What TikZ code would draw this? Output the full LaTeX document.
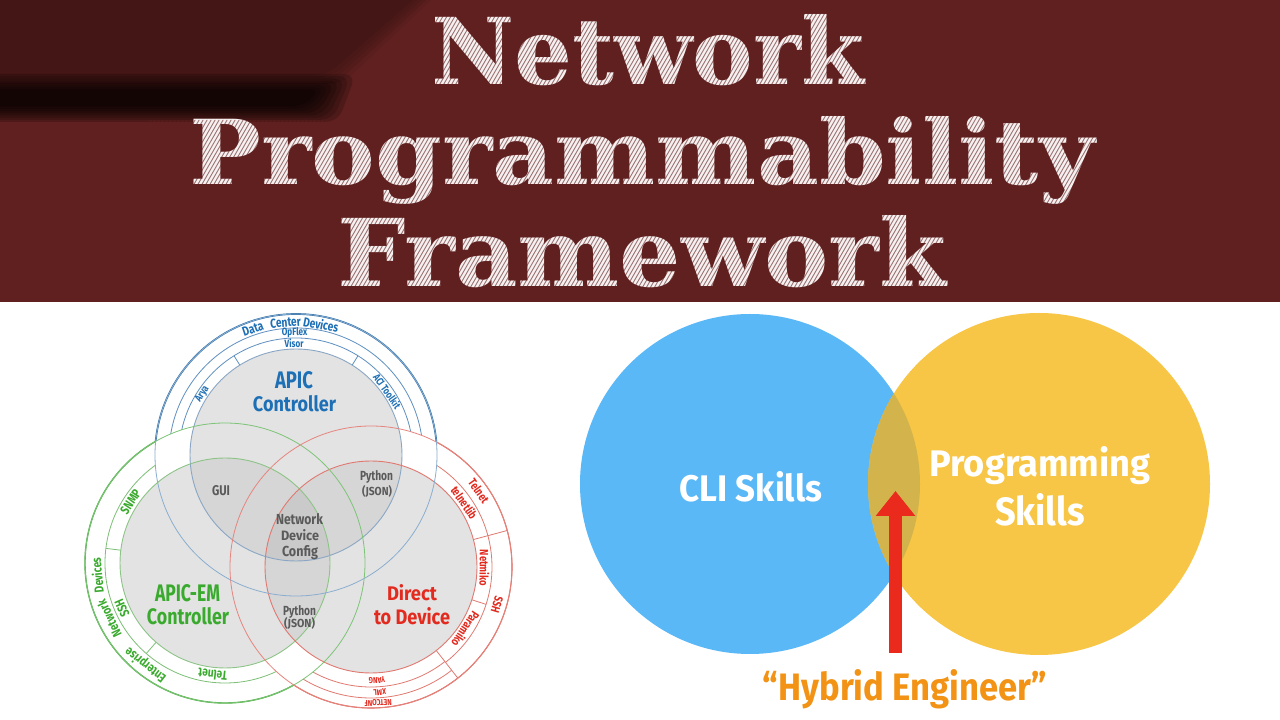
\documentclass[tikz,border=0pt]{standalone}
\usepackage{graphicx}
\usepackage{fontspec}
\setmainfont{Fira Sans}
\newfontfamily\condfont[FakeStretch=0.78]{Fira Sans}
\newfontfamily\slabfont{DejaVu Serif}
\usetikzlibrary{arrows.meta}
\definecolor{banner}{HTML}{5F201F}
\definecolor{titlewhite}{HTML}{F6F0F0}
\definecolor{skyblue}{HTML}{5BB8F7}
\definecolor{sunyellow}{HTML}{F8C646}
\definecolor{overlapc}{HTML}{D3B44C}
\definecolor{arrowred}{HTML}{EA2A1C}
\definecolor{hyborange}{HTML}{F29315}
\definecolor{bluetxt}{HTML}{1D6FB6}
\definecolor{blueout}{HTML}{2B6CA8}
\definecolor{bluering}{HTML}{5E8FC0}
\definecolor{blueinner}{HTML}{8AA6C4}
\definecolor{greentxt}{HTML}{3AAA2E}
\definecolor{greenout}{HTML}{50B048}
\definecolor{greenring}{HTML}{7CBF75}
\definecolor{greeninner}{HTML}{8CC486}
\definecolor{redtxt}{HTML}{E22A1F}
\definecolor{redout}{HTML}{E0665C}
\definecolor{redring}{HTML}{E07A70}
\definecolor{redinner}{HTML}{E07870}
\definecolor{grayA}{HTML}{E3E3E3}
\definecolor{grayB}{HTML}{D6D6D6}
\definecolor{grayC}{HTML}{CACACA}
\definecolor{graytxt}{HTML}{5A5A5A}
\newcommand\fitbox[3]{\resizebox{#1pt}{#2pt}{#3}}
\newcommand\outsideclip[2]{\clip (-50,-50) -- (-50,770) -- (1330,770) -- (1330,-50) -- cycle ([shift={(0:#2)}]#1) arc[start angle=0,end angle=360,radius=#2];}
\newcommand\ringlbl[6]{\node[#6,rotate={#3-90}] (#1) at ([shift={(#3:#4)}]#2) {#5};}
\tikzset{
  titletext/.style={inner sep=0,anchor=base,text=titlewhite,font=\slabfont\bfseries},
  mainlbl/.style={inner sep=0,anchor=base,font=\condfont\bfseries},
  rB13/.style={inner sep=0,text=bluetxt,font=\condfont\bfseries\fontsize{13}{13}\selectfont},
  rB10/.style={inner sep=0,text=bluetxt,font=\condfont\bfseries\fontsize{10.5}{10.5}\selectfont},
  rG12/.style={inner sep=0,text=greentxt,font=\condfont\bfseries\fontsize{13}{13}\selectfont},
  rR11/.style={inner sep=0,text=redtxt,font=\condfont\bfseries\fontsize{12}{12}\selectfont},
  rR8/.style={inner sep=0,text=redtxt,font=\condfont\bfseries\fontsize{8.5}{8.5}\selectfont},
  hybridarrow/.style={draw=arrowred,line width=13pt,-{Triangle[width=38pt,length=25pt]}},
}
\begin{document}
\begin{tikzpicture}[x=1pt,y=1pt]
\useasboundingbox (0,0) rectangle (1280,720);
\fill[white] (0,0) rectangle (1280,720);
% banner
\fill[banner] (0,418) rectangle (1280,720);
\foreach \k in {0,...,4}{
  \fill[black,opacity=0.06,rounded corners=14pt] (-20,{636+2*\k}) -- ({342-4*\k},{636+2*\k}) -- ({452-4*\k},740) -- (-20,740) -- cycle;
}
\foreach \k in {0,...,7}{
  \fill[black,opacity=0.17,rounded corners=12pt] (-20,{598+2.2*\k}) -- ({338-5*\k},{598+2.2*\k}) -- ({356-5*\k},{646-2.2*\k}) -- (-20,{646-2.2*\k}) -- cycle;
}
% title
\node[titletext] (tNetwork) at (648,635) {\fitbox{433}{70}{Network}};
\node[titletext] (tProg) at (642,535) {\fitbox{905}{68}{Programmability}};
\node[titletext] (tFrame) at (642,433) {\fitbox{609}{71}{Framework}};
% chalk hatching on the title letters (invisible over the plain banner)
\begin{scope}
  \clip (150,420) -- (1120,420) -- (1120,720) -- (458,720) -- (352,648) -- (360,600) -- (150,600) -- cycle;
  \foreach \i in {0,...,300}{
    \draw[banner,line width=0.9pt,opacity=0.6] ({-30+4*\i},418) -- ++(60:350);
  }
\end{scope}

% ===== right Venn =====
\node[circle,minimum size=340pt,inner sep=0,fill=skyblue] (cli) at (750,236) {};
\node[circle,minimum size=342pt,inner sep=0,fill=sunyellow] (prog) at (1039,236) {};
\begin{scope}
  \clip (750,236) circle[radius=170];
  \fill[overlapc] (1039,236) circle[radius=171];
\end{scope}
\node[mainlbl,text=white] (cliT) at (751,218) {\fitbox{143}{30}{CLI Skills}};
\node[mainlbl,text=white] (progT1) at (1040,243) {\fitbox{221}{30}{Programming}};
\node[mainlbl,text=white] (progT2) at (1040,194) {\fitbox{90}{32}{Skills}};
\node[mainlbl,text=hyborange] (hyb) at (905,19) {\fitbox{284}{31}{“Hybrid Engineer”}};
\coordinate (hbase) at (895.5,67);
\coordinate (htip) at (895.5,229);
\draw[hybridarrow] (hbase) -- (htip);

% ===== left Venn =====
\coordinate (B) at (296,265);
\coordinate (G) at (225,157);
\coordinate (R) at (371,153);
% gray discs
\fill[grayA] (B) circle[radius=106];
\fill[grayA] (G) circle[radius=105];
\fill[grayA] (R) circle[radius=106];
\begin{scope}
  \clip (B) circle[radius=106];
  \fill[grayB] (G) circle[radius=105];
  \fill[grayB] (R) circle[radius=106];
\end{scope}
\begin{scope}
  \clip (G) circle[radius=105];
  \fill[grayB] (R) circle[radius=106];
\end{scope}
\begin{scope}
  \clip (B) circle[radius=106];
  \clip (G) circle[radius=105];
  \fill[grayC] (R) circle[radius=106];
\end{scope}
% blue rings
\begin{scope}
  \outsideclip{G}{140}
  \outsideclip{R}{141}
  \draw[bluering,line width=0.8pt] (B) circle[radius=117] (B) circle[radius=127];
  \draw[bluering,line width=0.8pt] ([shift={(58:106)}]B) -- ([shift={(58:117)}]B);
  \draw[bluering,line width=0.8pt] ([shift={(122:106)}]B) -- ([shift={(122:117)}]B);
  \draw[blueout,line width=1.7pt] (B) circle[radius=141];
\end{scope}
% green rings
\begin{scope}
  \outsideclip{B}{141}
  \outsideclip{R}{141}
  \draw[greenring,line width=0.8pt] (G) circle[radius=120];
  \draw[greenring,line width=0.8pt] ([shift={(173:105)}]G) -- ([shift={(173:120)}]G);
  \draw[greenring,line width=0.8pt] ([shift={(229:105)}]G) -- ([shift={(229:120)}]G);
  \draw[greenout,line width=1.4pt] (G) circle[radius=140];
\end{scope}
% red rings
\begin{scope}
  \outsideclip{B}{141}
  \outsideclip{G}{140}
  \draw[redring,line width=0.8pt] ([shift={(-52:121)}]R) arc[start angle=-52,end angle=100,radius=121];
  \draw[redring,line width=0.8pt] ([shift={(170:120)}]R) arc[start angle=170,end angle=308,radius=120];
  \draw[redring,line width=0.8pt] ([shift={(170:131)}]R) arc[start angle=170,end angle=308,radius=131];
  \draw[redring,line width=0.8pt] ([shift={(308:106)}]R) -- ([shift={(308:141)}]R);
  \draw[redring,line width=0.8pt] ([shift={(15:106)}]R) -- ([shift={(15:141)}]R);
  \draw[redring,line width=0.8pt] ([shift={(342:106)}]R) -- ([shift={(342:121)}]R);
  \draw[redout,line width=1.1pt] (R) circle[radius=141];
\end{scope}
% thin outlines everywhere
\draw[blueinner,line width=0.9pt] (B) circle[radius=106];
\draw[greeninner,line width=0.9pt] (G) circle[radius=105];
\draw[redinner,line width=0.9pt] (R) circle[radius=106];
\draw[greenout!75,line width=0.8pt] (G) circle[radius=140];
\draw[redout!80,line width=0.8pt] (R) circle[radius=141];
\draw[blueout!55,line width=0.8pt] (B) circle[radius=141];

% ring labels blue
\ringlbl{bData}{B}{108.9}{133}{Data}{rB13}
\ringlbl{bCenter}{B}{94.5}{133}{Center}{rB13}
\ringlbl{bDevices}{B}{79.2}{133}{Devices}{rB13}
\ringlbl{bOpFlex}{B}{90.7}{122.3}{OpFlex}{rB10}
\ringlbl{bVisor}{B}{91}{111.5}{Visor}{rB10}
\ringlbl{bArya}{B}{147}{111.5}{Arya}{rB10}
\ringlbl{bACI}{B}{35}{111.5}{ACI Toolkit}{rB10}
% ring labels green
\ringlbl{gSNMP}{G}{147}{112.5}{SNMP}{rG12}
\ringlbl{gSSH}{G}{203.7}{112.5}{SSH}{rG12}
\ringlbl{gTelnet}{G}{263.7}{112.5}{Telnet}{rG12}
\ringlbl{gDevices}{G}{185.5}{128.5}{Devices}{rG12}
\ringlbl{gNetwork}{G}{205.7}{128.5}{Network}{rG12}
\ringlbl{gEnter}{G}{232}{129}{Enterprise}{rG12}
% ring labels red
\ringlbl{rTelnet}{R}{35.2}{132}{Telnet}{rR11}
\ringlbl{rTelnetlib}{R}{34.7}{113.5}{telnetlib}{rR11}
\ringlbl{rNetmiko}{R}{-0.5}{113.5}{Netmiko}{rR11}
\ringlbl{rSSH}{R}{-16.7}{131.5}{SSH}{rR11}
\ringlbl{rParamiko}{R}{-33.3}{113.5}{Paramiko}{rR11}
\ringlbl{rYANG}{R}{273}{113.5}{YANG}{rR8}
\ringlbl{rXML}{R}{274}{125.5}{XML}{rR8}
\ringlbl{rNETCONF}{R}{273}{136}{NETCONF}{rR8}

% main labels
\node[mainlbl,text=bluetxt] (apic1) at (294,331) {\fitbox{38}{17}{APIC}};
\node[mainlbl,text=bluetxt] (apic2) at (294.5,308) {\fitbox{83}{16}{Controller}};
\node[mainlbl,text=greentxt] (em1) at (187.5,118) {\fitbox{65}{17}{APIC-EM}};
\node[mainlbl,text=greentxt] (em2) at (188,95) {\fitbox{82}{17}{Controller}};
\node[mainlbl,text=redtxt] (dd1) at (412,119) {\fitbox{50}{16}{Direct}};
\node[mainlbl,text=redtxt] (dd2) at (412,95) {\fitbox{76}{17}{to Device}};
% gray labels
\node[mainlbl,text=graytxt] (gui) at (221,224) {\fitbox{18}{10}{GUI}};
\node[mainlbl,text=graytxt] (ndc1) at (299.5,195) {\fitbox{47}{11}{Network}};
\node[mainlbl,text=graytxt] (ndc2) at (300,179) {\fitbox{38}{11}{Device}};
\node[mainlbl,text=graytxt] (ndc3) at (300,163) {\fitbox{36}{11}{Config}};
\node[mainlbl,text=graytxt] (py1a) at (376.5,239) {\fitbox{33}{10}{Python}};
\node[mainlbl,text=graytxt] (py1b) at (377,224) {\fitbox{30}{10}{(JSON)}};
\node[mainlbl,text=graytxt] (py2a) at (299.5,104) {\fitbox{33}{10}{Python}};
\node[mainlbl,text=graytxt] (py2b) at (299.5,92) {\fitbox{31}{10}{(JSON)}};
\end{tikzpicture}
\end{document}
